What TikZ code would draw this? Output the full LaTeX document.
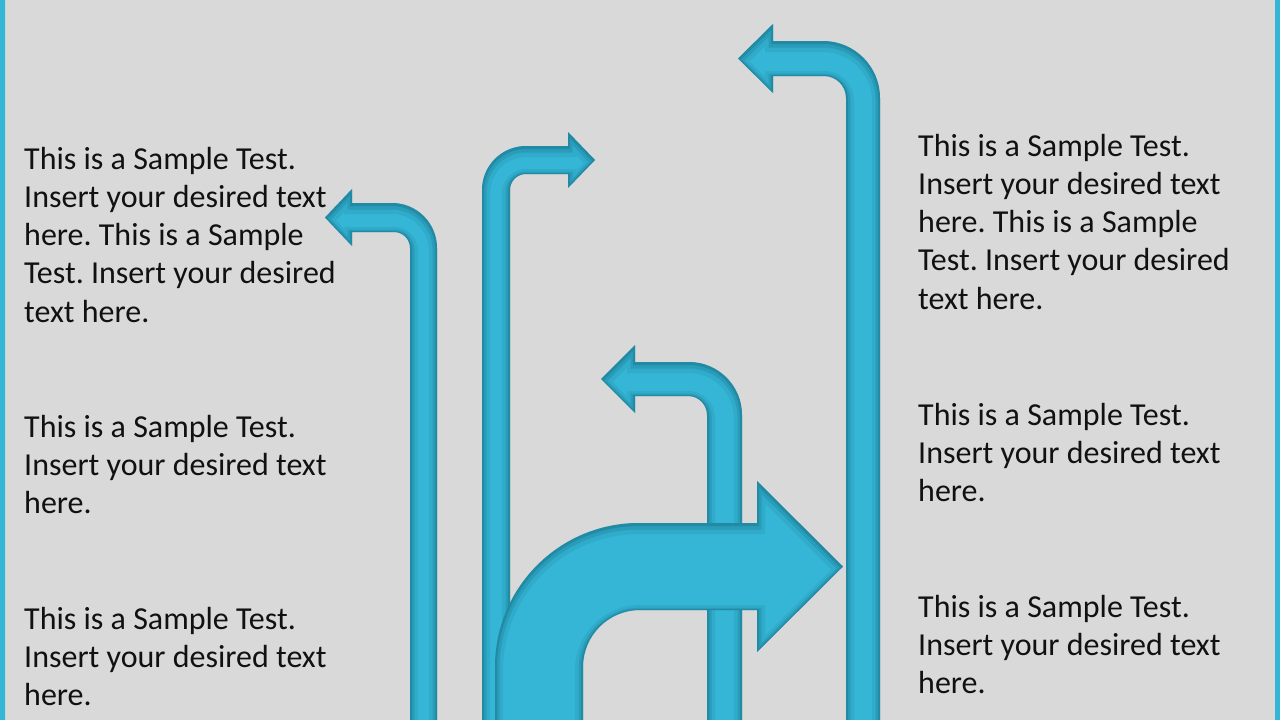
\documentclass[tikz,border=0pt]{standalone}
\usepackage{fontspec}
\setmainfont{Carlito}
\usepackage{xcolor}
\usetikzlibrary{positioning}
\definecolor{slate}{HTML}{D9D9D9}
\definecolor{turnblue}{HTML}{35B6D7}
\definecolor{turnshade}{HTML}{0E5C70}
\definecolor{inkgrey}{HTML}{111111}
\tikzset{
    blurb/.style={anchor=base west, align=left, inner sep=0pt, text=inkgrey, font=\fontsize{32}{38.3}\selectfont\frenchspacing},
}
\newcommand{\recessed}[1]{%
    \fill[turnblue] #1;
    \begin{scope}
        \clip #1;
        \draw[turnshade, line width=16, opacity=.12, yshift=-3pt] #1;
        \draw[turnshade, line width=9, opacity=.18, yshift=-2pt] #1;
        \draw[turnshade, line width=4, opacity=.28, yshift=-1pt] #1;
    \end{scope}}

\begin{document}
\begin{tikzpicture}[x=1pt, y=-1pt]
                        \useasboundingbox (0, 0) rectangle (1280, 720);
                        \clip (0, 0) rectangle (1280, 720);
                        \fill[slate] (0, 0) rectangle (1280, 720);
                        \fill[turnblue] (0, 0) rectangle (5, 720) (1275, 0) rectangle (1280, 720);
                        \recessed{(846, 730) -- (846, 98) arc(0:-90:22) -- (773, 76) -- (773, 93) -- (738, 58.5) -- (773, 24) -- (773, 41) -- (823, 41) arc(-90:0:57) -- (880, 730) -- cycle}
                        \recessed{(410, 730) -- (410, 248) arc(0:-90:16) -- (352, 232) -- (352, 246) -- (325, 217.5) -- (352, 189) -- (352, 203) -- (392, 203) arc(-90:0:45) -- (437, 730) -- cycle}
                        \recessed{(482, 730) -- (482, 190) arc(180:270:44) -- (568, 146) -- (568, 132) -- (595, 160) -- (568, 188) -- (568, 174) -- (526, 174) arc(270:180:16) -- (510, 730) -- cycle}
                        \recessed{(707, 730) -- (707, 415) arc(0:-90:19) -- (635, 396) -- (635, 413) -- (601, 379) -- (635, 345) -- (635, 362) -- (689, 362) arc(-90:0:53) -- (742, 730) -- cycle}
                        \recessed{(495, 730) -- (495, 667) arc(180:270:144) -- (757, 523) -- (757, 481) -- (843, 566.5) -- (757, 652) -- (757, 610) -- (640, 610) arc(270:180:57) -- (583, 730) -- cycle}
                        \node[blurb] (leftTop) at (24, 322.2) {This is a Sample Test.\\Insert your desired text\\here. This is a Sample\\Test. Insert your desired\\text here.};
                        \node[blurb] (leftMid) at (24, 513.6) {This is a Sample Test.\\Insert your desired text\\here.};
                        \node[blurb] (leftLow) at (24, 705.6) {This is a Sample Test.\\Insert your desired text\\here.};
                        \node[blurb] (rightTop) at (918, 309.2) {This is a Sample Test.\\Insert your desired text\\here. This is a Sample\\Test. Insert your desired\\text here.};
                        \node[blurb] (rightMid) at (918, 501.6) {This is a Sample Test.\\Insert your desired text\\here.};
                        \node[blurb] (rightLow) at (918, 693.6) {This is a Sample Test.\\Insert your desired text\\here.};
                    \end{tikzpicture}
\end{document}
